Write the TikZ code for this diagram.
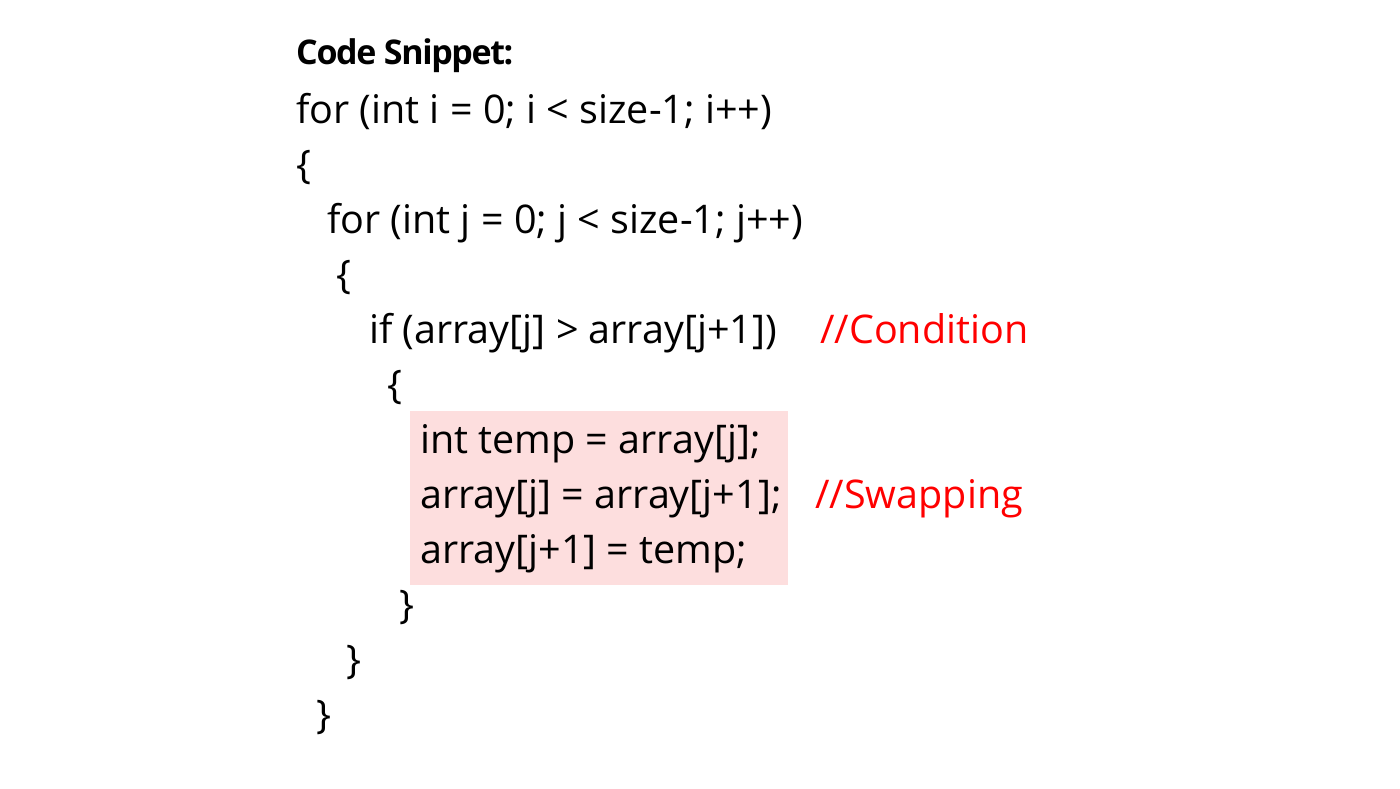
\documentclass[tikz,border=0pt]{standalone}
\usepackage{fontspec}
\setmainfont{Open Sans}
\definecolor{boxpink}{HTML}{FDDEDE}
\definecolor{cmt}{HTML}{FF0000}
\begin{document}
\begin{tikzpicture}[x=1pt,y=-1pt,
  code/.style={anchor=base west,inner sep=0pt,font=\fontsize{39.5}{44}\selectfont},
  comment/.style={code,text=cmt}]
\useasboundingbox (0,0) rectangle (1400,788);
\fill[boxpink] (410,411) rectangle (788,585);
\node[anchor=base west,inner sep=0pt,font=\fontsize{34}{40}\selectfont\bfseries\addfontfeature{LetterSpace=-4}] (t) at (296,64) {Code Snippet:};
\node[code] (l1) at (296,123) {for (int i = 0; i < size-1; i++)};
\node[code] (l2) at (296,178) {\{};
\node[code] (l3) at (327,233) {for (int j = 0; j < size-1; j++)};
\node[code] (l4) at (336,288) {\{};
\node[code] (l5) at (369,343) {if (array[j] > array[j+1])};
\node[comment] (c1) at (820,343) {//Condition};
\node[code] (l6) at (387,398) {\{};
\node[code] (l7) at (420,453) {int temp = array[j];};
\node[code] (l8) at (420,508) {array[j] = array[j+1];};
\node[comment] (c2) at (815,508) {//Swapping};
\node[code] (l9) at (420,563) {array[j+1] = temp;};
\node[code] (l10) at (399,618) {\}};
\node[code] (l11) at (346,673) {\}};
\node[code] (l12) at (316,728) {\}};
\end{tikzpicture}
\end{document}
